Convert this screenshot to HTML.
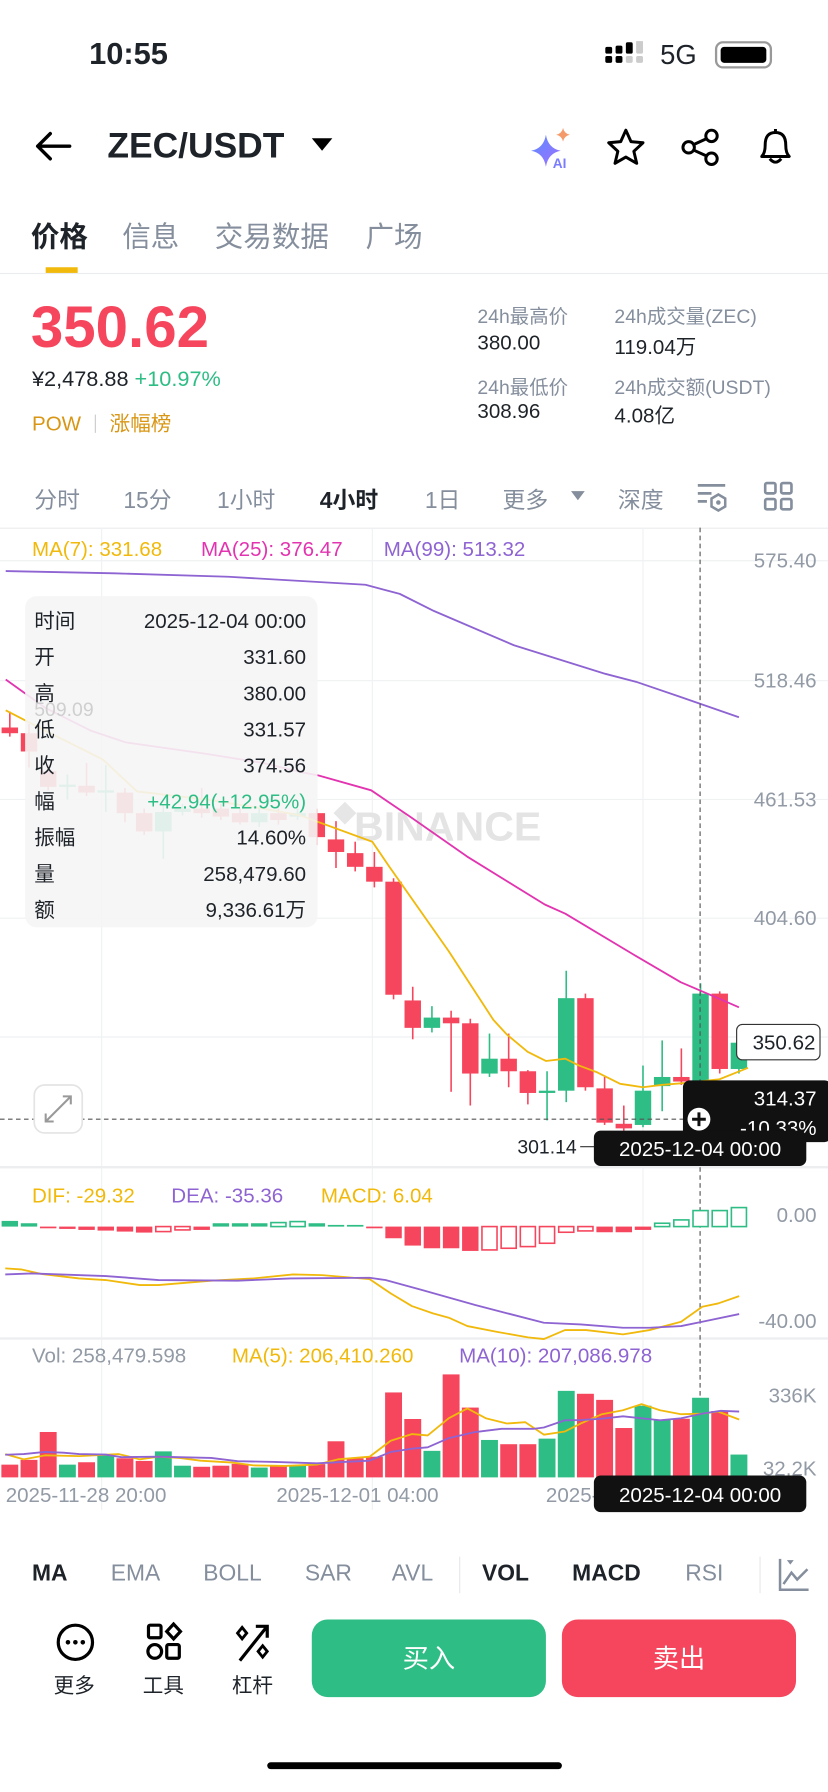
<!DOCTYPE html>
<html><head><meta charset="utf-8">
<style>
html,body{margin:0;padding:0;background:#fff;width:828px;height:1792px;overflow:hidden}
#w{position:absolute;left:0;top:0;width:725px;height:1569px;transform:scale(1.14207);transform-origin:0 0;font-family:"Liberation Sans","Noto Sans CJK SC",sans-serif;color:#1e2329}
.a{position:absolute;white-space:nowrap}
.g{color:#848e9c}
</style></head><body><div id="w">
<!-- status bar -->
<div class="a" style="left:78px;top:32px;font-size:27px;font-weight:bold">10:55</div>
<svg class="a" style="left:528px;top:36px" width="150" height="26">
<rect x="2" y="13" width="6" height="6" rx="1.5" fill="#000"/><rect x="2" y="5" width="6" height="6" rx="1.5" fill="#000"/>
<rect x="11" y="13" width="6" height="6" rx="1.5" fill="#000"/><rect x="11" y="4" width="6" height="7" rx="1.5" fill="#000"/>
<rect x="20" y="13" width="6" height="6" rx="1.5" fill="#ccc"/><rect x="20" y="1" width="6" height="10" rx="1.5" fill="#000"/>
<rect x="29" y="13" width="6" height="6" rx="1.5" fill="#ccc"/><rect x="29" y="-2" width="6" height="13" rx="1.5" fill="#ccc"/>
<rect x="99" y="1" width="48" height="22" rx="6" fill="none" stroke="#999" stroke-width="2"/>
<rect x="103" y="5" width="40" height="14" rx="3" fill="#000"/>
</svg>
<div class="a" style="left:578px;top:35px;font-size:24px">5G</div>
<!-- header -->
<svg class="a" style="left:30px;top:114px" width="34" height="28"><path d="M14 3 L3 14 L14 25 M3 14 H31" stroke="#000" stroke-width="3" fill="none" stroke-linecap="round" stroke-linejoin="round"/></svg>
<div class="a" style="left:94px;top:110px;font-size:31px;font-weight:bold">ZEC/USDT</div>
<svg class="a" style="left:272px;top:120px" width="20" height="14"><path d="M1 1 H19 L10 12Z" fill="#000"/></svg>
<svg class="a" style="left:464px;top:110px" width="40" height="40"><defs><linearGradient id="ai" x1="0" y1="0" x2="1" y2="1"><stop offset="0" stop-color="#5b8cff"/><stop offset="1" stop-color="#a070ff"/></linearGradient></defs>
<path d="M14 8 Q16 20 27 22 Q16 24 14 36 Q12 24 1 22 Q12 20 14 8Z" fill="url(#ai)"/><path d="M29 2 Q30 7 35 8 Q30 9 29 14 Q28 9 23 8 Q28 7 29 2Z" fill="#f59a6b"/>
<text x="20" y="37" font-size="12" font-weight="bold" fill="#7a7cff" font-family="Liberation Sans">AI</text></svg>
<svg class="a" style="left:531px;top:112px" width="34" height="34"><path d="M17 2 L21.5 12 L32 13 L24 20.5 L26.5 31 L17 25.5 L7.5 31 L10 20.5 L2 13 L12.5 12Z" fill="none" stroke="#000" stroke-width="2.6" stroke-linejoin="round"/></svg>
<svg class="a" style="left:596px;top:112px" width="36" height="34"><circle cx="27" cy="7" r="5" fill="none" stroke="#000" stroke-width="2.6"/><circle cx="7" cy="17" r="5" fill="none" stroke="#000" stroke-width="2.6"/><circle cx="27" cy="27" r="5" fill="none" stroke="#000" stroke-width="2.6"/><path d="M11.5 14.5 L22.5 9.5 M11.5 19.5 L22.5 24.5" stroke="#000" stroke-width="2.6"/></svg>
<svg class="a" style="left:662px;top:110px" width="34" height="38"><path d="M5 27 Q8 24 8 17 Q8 6 17 6 Q26 6 26 17 Q26 24 29 27 Z" fill="none" stroke="#000" stroke-width="2.6" stroke-linejoin="round"/><path d="M12 29 Q17 35 22 29" fill="none" stroke="#000" stroke-width="2.6"/><path d="M17 3 V6" stroke="#000" stroke-width="2.6"/></svg>
<!-- tabs -->
<div class="a" style="left:27px;top:188px;font-size:25px;font-weight:bold">价格</div>
<div class="a g" style="left:107px;top:188px;font-size:25px">信息</div>
<div class="a g" style="left:188px;top:188px;font-size:25px">交易数据</div>
<div class="a g" style="left:320px;top:188px;font-size:25px">广场</div>
<div class="a" style="left:40px;top:234px;width:28px;height:5px;background:#f0b90b"></div>
<div class="a" style="left:0;top:239px;width:725px;height:1px;background:#eaecef"></div>
<!-- price -->
<div class="a" style="left:27px;top:257px;font-size:51px;font-weight:bold;color:#f6465d">350.62</div>
<div class="a" style="left:28px;top:322px;font-size:19px">¥2,478.88 <span style="color:#2ebd85">+10.97%</span></div>
<div class="a" style="left:28px;top:357px;font-size:18px;color:#d89614">POW<span style="display:inline-block;width:1px;height:16px;background:#ccc;margin:0 12px;vertical-align:-2px"></span>涨幅榜</div>
<div class="a g" style="left:418px;top:263px;font-size:17px">24h最高价</div>
<div class="a" style="left:418px;top:290px;font-size:18px">380.00</div>
<div class="a g" style="left:418px;top:325px;font-size:17px">24h最低价</div>
<div class="a" style="left:418px;top:350px;font-size:18px">308.96</div>
<div class="a g" style="left:538px;top:263px;font-size:17px">24h成交量(ZEC)</div>
<div class="a" style="left:538px;top:290px;font-size:18px">119.04万</div>
<div class="a g" style="left:538px;top:325px;font-size:17px">24h成交额(USDT)</div>
<div class="a" style="left:538px;top:350px;font-size:18px">4.08亿</div>
<!-- intervals -->
<div class="a g" style="left:30px;top:422px;font-size:20px">分时</div>
<div class="a g" style="left:108px;top:422px;font-size:20px">15分</div>
<div class="a g" style="left:190px;top:422px;font-size:20px">1小时</div>
<div class="a" style="left:280px;top:422px;font-size:20px;font-weight:bold">4小时</div>
<div class="a g" style="left:372px;top:422px;font-size:20px">1日</div>
<div class="a g" style="left:440px;top:422px;font-size:20px">更多</div>
<svg class="a" style="left:499px;top:429px" width="14" height="10"><path d="M1 1H13L7 9Z" fill="#848e9c"/></svg>
<div class="a g" style="left:541px;top:422px;font-size:20px">深度</div>
<svg class="a" style="left:609px;top:421px" width="30" height="28"><path d="M2 4H26M2 11H14M2 18H10" stroke="#848e9c" stroke-width="2.4"/><path d="M20 12 L26 15.5 V22.5 L20 26 L14 22.5 V15.5Z" fill="none" stroke="#848e9c" stroke-width="2.2"/><circle cx="20" cy="19" r="2" fill="#848e9c"/></svg>
<svg class="a" style="left:668px;top:421px" width="28" height="28"><rect x="2" y="2" width="9" height="9" rx="1.5" fill="none" stroke="#848e9c" stroke-width="2.3"/><rect x="16" y="2" width="9" height="9" rx="1.5" fill="none" stroke="#848e9c" stroke-width="2.3"/><rect x="2" y="16" width="9" height="9" rx="1.5" fill="none" stroke="#848e9c" stroke-width="2.3"/><rect x="16" y="16" width="9" height="9" rx="1.5" fill="none" stroke="#848e9c" stroke-width="2.3"/></svg>
<div class="a" style="left:0;top:462px;width:725px;height:1px;background:#eaecef"></div>

<svg id="ch" class="a" style="left:0;top:0" width="725" height="1569"></svg>

<!-- bottom indicator row -->
<div class="a" style="left:28px;top:1367px;font-size:20px;font-weight:bold">MA</div>
<div class="a g" style="left:97px;top:1367px;font-size:20px">EMA</div>
<div class="a g" style="left:178px;top:1367px;font-size:20px">BOLL</div>
<div class="a g" style="left:267px;top:1367px;font-size:20px">SAR</div>
<div class="a g" style="left:343px;top:1367px;font-size:20px">AVL</div>
<div class="a" style="left:402px;top:1363px;width:1px;height:32px;background:#e6e8ea"></div>
<div class="a" style="left:422px;top:1367px;font-size:20px;font-weight:bold">VOL</div>
<div class="a" style="left:501px;top:1367px;font-size:20px;font-weight:bold">MACD</div>
<div class="a g" style="left:600px;top:1367px;font-size:20px">RSI</div>
<div class="a" style="left:665px;top:1363px;width:1px;height:32px;background:#e6e8ea"></div>
<svg class="a" style="left:680px;top:1363px" width="30" height="32"><path d="M3 2V29H28" fill="none" stroke="#848e9c" stroke-width="2.2"/><path d="M6 24 L13 14 L18 20 L27 11" fill="none" stroke="#848e9c" stroke-width="2.2"/><path d="M9 3H15L12 7Z" fill="#848e9c"/></svg>
<!-- bottom actions -->
<svg class="a" style="left:48px;top:1420px" width="36" height="36"><circle cx="18" cy="18" r="15" fill="none" stroke="#000" stroke-width="2.8"/><circle cx="11.5" cy="18" r="2" fill="#000"/><circle cx="18" cy="18" r="2" fill="#000"/><circle cx="24.5" cy="18" r="2" fill="#000"/></svg>
<div class="a" style="left:47px;top:1462px;font-size:18px">更多</div>
<svg class="a" style="left:127px;top:1420px" width="36" height="36"><rect x="3" y="3" width="11" height="11" rx="1.5" fill="none" stroke="#000" stroke-width="2.8"/><path d="M25 2 L31 8.5 L25 15 L19 8.5Z" fill="none" stroke="#000" stroke-width="2.8"/><circle cx="8.5" cy="26" r="6" fill="none" stroke="#000" stroke-width="2.8"/><rect x="19" y="20" width="11" height="12" rx="1.5" fill="none" stroke="#000" stroke-width="2.8"/></svg>
<div class="a" style="left:125px;top:1462px;font-size:18px">工具</div>
<svg class="a" style="left:204px;top:1420px" width="36" height="36"><path d="M6 34 L30 4 M20 4H30V14" fill="none" stroke="#000" stroke-width="2.8"/><path d="M8 5 L12 10 L8 15 L4 10Z" fill="none" stroke="#000" stroke-width="2.5"/><path d="M26 21 L30 26 L26 31 L22 26Z" fill="none" stroke="#000" stroke-width="2.5"/></svg>
<div class="a" style="left:203px;top:1462px;font-size:18px">杠杆</div>
<div class="a" style="left:273px;top:1418px;width:205px;height:68px;border-radius:14px;background:#2ebd85;color:#fff;font-size:23px;text-align:center;line-height:68px">买入</div>
<div class="a" style="left:492px;top:1418px;width:205px;height:68px;border-radius:14px;background:#f6465d;color:#fff;font-size:23px;text-align:center;line-height:68px">卖出</div>
<div class="a" style="left:234px;top:1543px;width:258px;height:6px;border-radius:3px;background:#000"></div>
</div>
<script>
var s='',R='#f6465d',G='#2ebd85',Y='#f0b90b',P='#e234b0',V='#8e63d2';
function L(x1,y1,x2,y2,c,w,d){s+='<line x1="'+x1+'" y1="'+y1+'" x2="'+x2+'" y2="'+y2+'" stroke="'+c+'" stroke-width="'+(w||1)+'"'+(d?' stroke-dasharray="'+d+'"':'')+'/>';}
function T(x,y,t,c,sz,anc,fw){s+='<text x="'+x+'" y="'+y+'" fill="'+c+'" font-size="'+sz+'" text-anchor="'+(anc||'start')+'"'+(fw?' font-weight="'+fw+'"':'')+' font-family="Liberation Sans,Noto Sans CJK SC,sans-serif">'+t+'</text>';}
function PL(pts,c,w){s+='<polyline points="'+pts.map(function(p){return p[0].toFixed(1)+','+p[1].toFixed(1)}).join(' ')+'" fill="none" stroke="'+c+'" stroke-width="'+(w||1.6)+'" stroke-linejoin="round"/>';}
[491,596,700,804,908].forEach(function(y){L(0,y,725,y,'#eff1f3',1)});
[89,326,563].forEach(function(x){L(x,462,x,1322,'#eff1f3',1)});
L(0,1022,725,1022,'#eceef0',2);L(0,1172,725,1172,'#eceef0',2);
s+='<path d="M292 712 L302 702 L312 712 L302 722Z" fill="#e6e6e6"/>';
T(310,736,'BINANCE','#e4e4e4',36,'start','bold');
var C=[['r',637,642,623,645],['r',642,658,634,672],['r',675,689,670,692],['g',687,689,678,700],['r',688,694,668,697],['g',692,694,670,711],['r',694,712,690,720],['r',712,728,708,731],['g',711,728,705,752],['g',708,711,704,714],['r',708,712,690,716],['r',708,715,704,718],['r',712,720,708,722],['g',712,720,708,724],['r',712,718,708,722],['g',712,715,708,718],['r',712,733,708,740],['r',735,746,719,760],['r',747,759,737,763],['r',759,772,746,777],['r',772,871,769,875],['r',876,900,864,910],['g',891,900,881,904],['r',891,896,885,956],['r',896,940,892,968],['g',927,940,905,943],['r',927,938,905,952],['r',938,957,937,967],['g',955,957,938,981],['g',874,955,850,965],['r',874,952,870,955],['r',953,983,943,985],['r',984,988,968,990],['g',955,985,933,987],['g',943,951,911,973],['r',943,947,918,950],['g',870,948,861,950],['r',870,936,868,940],['g',913,936,910,940]];
C.forEach(function(c,i){var x=647-16.8*(38-i),col=c[0]=='r'?R:G;L(x,c[3],x,c[4],col,1.4);s+='<rect x="'+(x-7.2)+'" y="'+c[1]+'" width="14.4" height="'+Math.max(1.5,c[2]-c[1])+'" fill="'+col+'"/>';});
PL([[5,500],[100,502],[200,505],[320,512],[350,520],[380,535],[450,565],[530,590],[557,597],[595,610],[647,628]],V);
PL([[5,595],[40,620],[80,640],[110,650],[180,660],[230,668],[263,676],[279,679],[325,692],[359,715],[409,750],[477,792],[495,800],[555,836],[596,860],[631,875],[647,882]],P);
PL([[5,622],[40,640],[90,665],[120,693],[180,700],[230,708],[263,714],[326,737],[341,759],[393,833],[432,893],[444,906],[462,921],[478,929],[495,927],[507,933],[523,939],[543,949],[563,952],[579,950],[603,948],[630,945],[655,935]],Y);
L(613,462,613,1322,'#555',1,'4,3');L(0,980,600,980,'#555',1,'4,3');
T(28,487,'MA(7): 331.68',Y,18);T(176,487,'MA(25): 376.47',P,18);T(336,487,'MA(99): 513.32',V,18);
[[575.40,497],[518.46,602],[461.53,706],[404.60,810]].forEach(function(a){T(715,a[1],a[0].toFixed(2),'#929aa5',18,'end')});
s+='<rect x="22" y="522" width="256" height="290" rx="10" fill="#f5f5f5" fill-opacity="0.9"/>';
T(30,627,'509.09','#cfcfcf',17);
var tl=[['时间','2025-12-04 00:00'],['开','331.60'],['高','380.00'],['低','331.57'],['收','374.56'],['幅','+42.94(+12.95%)'],['振幅','14.60%'],['量','258,479.60'],['额','9,336.61万']];
tl.forEach(function(r,i){var y=550+i*31.6;T(30,y,r[0],'#1e2329',18);T(268,y,r[1],i==5?G:'#1e2329',18,'end');});
s+='<rect x="30" y="950" width="42" height="42" rx="9" fill="#fff" stroke="#e4e4e4" stroke-width="1.5"/><path d="M40 982 L62 960 M55 960H62V967 M40 975V982H47" stroke="#999" stroke-width="1.8" fill="none"/>';
s+='<rect x="645" y="897" width="73" height="31" rx="5" fill="#fff" stroke="#333" stroke-width="1"/>';T(714,919,'350.62','#1e2329',18,'end');
T(453,1010,'301.14','#1e2329',17);L(508,1004,522,1004,'#333',1);
s+='<rect x="598" y="946" width="130" height="54" rx="6" fill="#111"/>';T(715,968,'314.37','#fff',18,'end');T(715,994,'-10.33%','#fff',18,'end');
s+='<circle cx="612" cy="980" r="10" fill="#fff"/><path d="M606 980H618M612 974V986" stroke="#111" stroke-width="2.6"/>';
s+='<rect x="520" y="990" width="186" height="31" rx="6" fill="#111"/>';T(613,1012,'2025-12-04 00:00','#fff',18,'middle');
T(28,1053,'DIF: -29.32',Y,18);T(150,1053,'DEA: -35.36',V,18);T(281,1053,'MACD: 6.04',Y,18);
T(715,1070,'0.00','#929aa5',18,'end');T(715,1163,'-40.00','#929aa5',18,'end');
var M=[['g',128],['g',135],['r',150],['r',152],['r',155],['r',157],['r',160],['r',163],['rh',160],['rh',155],['r',155],['g',135],['g',135],['g',135],['gh',133],['gh',130],['g',135],['g',140],['g',140],['r',150],['r',180],['r',202],['r',210],['r',210],['r',218],['rh',215],['rh',210],['rh',205],['rh',195],['rh',162],['rh',158],['r',162],['r',162],['r',155],['gh',135],['gh',125],['gh',97],['gh',97],['gh',88]];
var z=1074;
M.forEach(function(m,i){var x=647-16.8*(38-i),v=(m[1]-145)*0.292,y1=Math.min(z,z+v),h=Math.max(1.5,Math.abs(v)),col=m[0][0]=='r'?R:G;
if(m[0].length>1)s+='<rect x="'+(x-6.6)+'" y="'+y1+'" width="13.2" height="'+h+'" fill="#fff" stroke="'+col+'" stroke-width="1.4"/>';
else s+='<rect x="'+(x-7.2)+'" y="'+y1+'" width="14.4" height="'+h+'" fill="'+col+'"/>';});
function cv(a,fy){return a.map(function(p){return [p[0]/2.163,fy(p[1])]});}
var fm=function(y){return (1180+y/3)/1.142};
PL(cv([[10,265],[40,268],[80,282],[150,295],[200,300],[265,315],[300,315],[400,302],[480,295],[555,283],[610,285],[700,297],[740,340],[780,378],[820,400],[850,413],[885,438],[940,455],[1000,472],[1030,477],[1070,450],[1110,450],[1180,463],[1230,450],[1290,425],[1330,380],[1360,370],[1400,348]],fm),Y);
PL(cv([[10,283],[60,280],[200,288],[300,300],[450,302],[550,295],[700,293],[730,300],[800,330],[900,375],[1030,428],[1100,433],[1180,443],[1230,443],[1290,438],[1330,425],[1400,402]],fm),V);
T(28,1193,'Vol: 258,479.598','#929aa5',18);T(203,1193,'MA(5): 206,410.260',Y,18);T(402,1193,'MA(10): 207,086.978',V,18);
var fv=function(y){return 1186+(y-45)*0.2324};
var VB=[['r',460],['r',442],['r',337],['g',460],['r',451],['g',425],['r',436],['r',446],['g',410],['g',464],['r',468],['r',464],['r',457],['g',471],['r',464],['g',464],['r',458],['r',372],['r',436],['r',430],['r',188],['r',288],['g',408],['r',120],['r',245],['g',367],['r',383],['r',383],['g',362],['g',182],['r',193],['r',216],['r',322],['g',238],['g',290],['r',287],['g',208],['r',258],['g',422]];
var vb=fv(508);
VB.forEach(function(m,i){var x=647-16.8*(38-i),t=fv(m[1]);s+='<rect x="'+(x-7.4)+'" y="'+t+'" width="14.8" height="'+(vb-t)+'" fill="'+(m[0]=='r'?R:G)+'"/>';});
PL(cv([[10,420],[45,440],[85,425],[150,428],[225,420],[265,440],[300,430],[340,435],[380,445],[440,452],[480,463],[540,465],[600,460],[640,440],[700,430],[740,370],[780,345],[810,350],[850,285],[885,248],[920,285],[960,305],[995,300],[1030,347],[1070,335],[1100,305],[1140,270],[1180,255],[1215,232],[1250,255],[1290,270],[1330,268],[1360,260],[1400,290]],fv),Y);
PL(cv([[10,423],[45,420],[85,412],[120,415],[150,420],[200,422],[230,432],[300,430],[400,435],[450,447],[520,450],[600,455],[700,445],[740,412],[780,400],[810,395],[850,360],[900,337],[950,325],[1010,325],[1030,320],[1070,293],[1100,292],[1140,287],[1180,278],[1250,293],[1290,285],[1330,268],[1365,257],[1400,260]],fv),V);
T(715,1228,'336K','#929aa5',18,'end');T(715,1292,'32.2K','#929aa5',18,'end');
T(5,1315,'2025-11-28 20:00','#929aa5',18);T(242,1315,'2025-12-01 04:00','#929aa5',18);T(478,1315,'2025-12-03 12:00','#929aa5',18);
s+='<rect x="520" y="1292" width="186" height="32" rx="6" fill="#111"/>';T(613,1315,'2025-12-04 00:00','#fff',18,'middle');
document.getElementById('ch').innerHTML=s;
</script>
</body></html>
